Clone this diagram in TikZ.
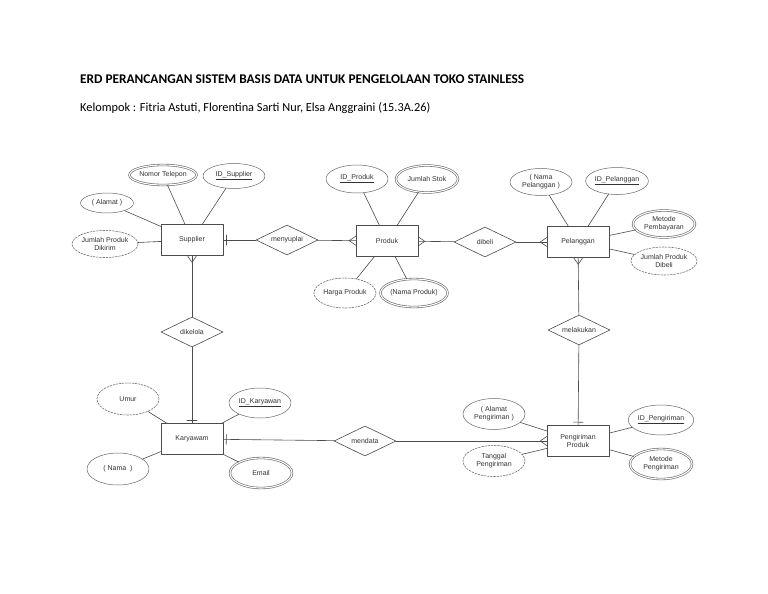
\documentclass[tikz,border=0pt]{standalone}
\usepackage{fontspec}
\setmainfont{Liberation Sans}
\newfontfamily\titlefont{Carlito}
\usetikzlibrary{shapes.geometric,decorations.markings}
\begin{document}
\begin{tikzpicture}[x=1pt, y=-1pt, font=\fontsize{7}{8}\selectfont, line join=round, line cap=round,
	line/.style={draw=black!70, line width=0.6pt},
	entitas/.style={line, rectangle, minimum width=62pt, minimum height=31pt, inner sep=1pt, align=center, text=black!80},
	relasi/.style={line, diamond, aspect=2, minimum width=62pt, minimum height=30pt, inner sep=0pt, text=black!80},
	atribut/.style={draw=black!60, line width=0.5pt, ellipse, minimum width=62pt, minimum height=29pt, inner sep=0pt, align=center, text=black!80},
	multi/.style={atribut, double, double distance=1.1pt, line width=0.6pt},
	turunan/.style={atribut, dashed, dash pattern=on 2pt off 1.2pt, draw=black!60, line width=0.55pt},
	one/.style={postaction={decorate}, decoration={markings, mark=at position -3pt with {\draw[black!70, line width=0.6pt] (0,-5pt) -- (0,5pt);}}},
	many/.style={postaction={decorate}, decoration={markings, mark=at position -6.5pt with {\draw[black!70, line width=0.6pt] (0,0) -- (6.5pt,4.5pt) (0,0) -- (6.5pt,-4.5pt);}}}]
	\useasboundingbox[fill=white] (0,0) rectangle (768,594);
	% judul
	\node[anchor=base west, inner sep=0pt, font=\titlefont\fontsize{13.3}{15}\selectfont\bfseries] (judul) at (80,84) {ERD PERANCANGAN SISTEM BASIS DATA UNTUK PENGELOLAAN TOKO STAINLESS};
	\node[anchor=base west, inner sep=0pt, font=\titlefont\fontsize{12.3}{14}\selectfont] (kelompok) at (80,111) {Kelompok : Fitria Astuti, Florentina Sarti Nur, Elsa Anggraini (15.3A.26)};
	% entitas
	\node[entitas] (supplier) at (192,240) {Supplier};
	\node[entitas] (produk) at (387,241) {Produk};
	\node[entitas] (pelanggan) at (578,242) {Pelanggan};
	\node[entitas] (karyawam) at (192,439) {Karyawam};
	\node[entitas] (pengiriman) at (578,441) {Pengiriman\\Produk};
	% relasi
	\node[relasi] (menyuplai) at (287,240) {menyuplai};
	\node[relasi] (dibeli) at (485,242) {dibeli};
	\node[relasi] (dikelola) at (192,332) {dikelola};
	\node[relasi] (melakukan) at (579,330) {melakukan};
	\node[relasi] (mendata) at (365,441) {mendata};
	% atribut supplier
	\node[multi, minimum width=60pt, minimum height=20pt] (telepon) at (163,175) {Nomor Telepon};
	\node[atribut, minimum width=62pt, minimum height=25pt] (idsupplier) at (234,176) {\underline{ID\_Supplier}};
	\node[atribut, minimum width=53pt, minimum height=20pt] (alamat) at (107,203) {( Alamat )};
	\node[turunan, minimum width=61pt, minimum height=27pt] (dikirim) at (105,244) {Jumlah Produk\\Dikirim};
	% atribut produk
	\node[atribut, minimum height=28pt] (idproduk) at (357,179) {\underline{ID\_Produk}};
	\node[multi, minimum height=27pt] (stok) at (427,179) {Jumlah Stok};
	\node[turunan, minimum height=30pt] (harga) at (345,293) {Harga Produk};
	\node[multi, minimum height=28pt] (namaproduk) at (414,293) {(Nama Produk)};
	% atribut pelanggan
	\node[atribut, minimum height=27pt] (namapelanggan) at (541,182) {( Nama\\Pelanggan )};
	\node[atribut, minimum height=27pt] (idpelanggan) at (617,181) {\underline{ID\_Pelanggan}};
	\node[multi, minimum height=27pt] (pembayaran) at (664,224) {Metode\\Pembayaran};
	\node[turunan, minimum height=28pt] (dibeliattr) at (664,261) {Jumlah Produk\\Dibeli};
	% atribut karyawam
	\node[turunan, minimum height=32pt] (umur) at (128,399) {Umur};
	\node[atribut, minimum height=30pt] (idkaryawan) at (260,403) {\underline{ID\_Karyawan}};
	\node[atribut, minimum height=32pt] (nama) at (118,469) {( Nama~~)};
	\node[multi, minimum height=30pt] (email) at (261,473) {Email};
	% atribut pengiriman
	\node[atribut, minimum height=31pt] (alamatkirim) at (494,414) {( Alamat\\Pengiriman )};
	\node[turunan, minimum height=31pt] (tanggal) at (494,461) {Tanggal\\Pengiriman};
	\node[atribut, minimum height=30pt] (idpengiriman) at (661,420) {\underline{ID\_Pengiriman}};
	\node[multi, minimum height=30pt] (metodekirim) at (661,464) {Metode\\Pengiriman};
	% garis atribut
	\foreach \a/\e in {telepon/supplier, idsupplier/supplier, alamat/supplier, dikirim/supplier,
		idproduk/produk, stok/produk, harga/produk, namaproduk/produk,
		namapelanggan/pelanggan, idpelanggan/pelanggan, pembayaran/pelanggan, dibeliattr/pelanggan,
		umur/karyawam, idkaryawan/karyawam, nama/karyawam, email/karyawam,
		alamatkirim/pengiriman, tanggal/pengiriman, idpengiriman/pengiriman, metodekirim/pengiriman}
		\draw[line] (\a) -- (\e);
	% relasi dan kardinalitas
	\draw[line, one] (menyuplai) -- (supplier);
	\draw[line, many] (menyuplai) -- (produk);
	\draw[line, many] (dibeli) -- (produk);
	\draw[line, many] (dibeli) -- (pelanggan);
	\draw[line, many] (dikelola) -- (supplier);
	\draw[line, one] (dikelola) -- (karyawam);
	\draw[line, one] (mendata) -- (karyawam);
	\draw[line, many] (mendata) -- (pengiriman);
	\draw[line, many] (melakukan) -- (pelanggan);
	\draw[line, one] (melakukan) -- (pengiriman);
\end{tikzpicture}
\end{document}
